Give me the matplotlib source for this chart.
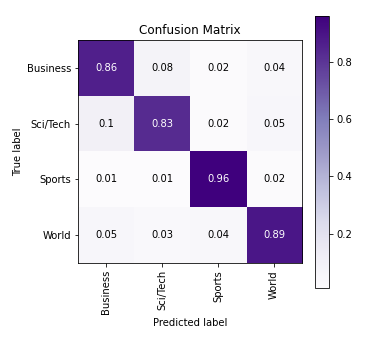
import numpy as np
import matplotlib
matplotlib.use('Agg')
import matplotlib.pyplot as plt

classes = ['Business', 'Sci/Tech', 'Sports', 'World']
cm = np.array([
    [0.86, 0.08, 0.02, 0.04],
    [0.10, 0.83, 0.02, 0.05],
    [0.01, 0.01, 0.96, 0.02],
    [0.05, 0.03, 0.04, 0.89],
])

W, H = 370, 352
dpi = 72
fig = plt.figure(figsize=(W / dpi, H / dpi), dpi=dpi)
plt.rcParams['font.size'] = 10

ax = fig.add_axes([78 / W, 1 - 263 / H, 224 / W, 223 / H])
im = ax.imshow(cm, interpolation='nearest', cmap=plt.cm.Purples, aspect='auto')
ax.set_title('Confusion Matrix', fontsize=12)

ticks = np.arange(len(classes))
ax.set_xticks(ticks)
ax.set_xticklabels(classes, rotation=90)
ax.set_yticks(ticks)
ax.set_yticklabels(classes)

thresh = cm.max() / 2.
for i in range(cm.shape[0]):
    for j in range(cm.shape[1]):
        ax.text(j, i, str(cm[i, j]).rstrip('0') if cm[i, j] * 100 % 10 == 0 else f'{cm[i, j]:.2f}',
                ha='center', va='center',
                color='white' if cm[i, j] > thresh else 'black')

ax.set_ylabel('True label', fontsize=10)
ax.set_xlabel('Predicted label', fontsize=10)

cax = fig.add_axes([315 / W, 1 - 288 / H, 14 / W, 272 / H])
cb = fig.colorbar(im, cax=cax)
cb.set_ticks([0.2, 0.4, 0.6, 0.8])

fig.savefig('out.png', dpi=dpi)
